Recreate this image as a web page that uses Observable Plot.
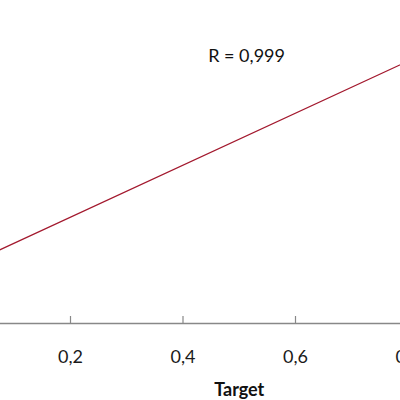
<!DOCTYPE html>
<html>
<head>
<meta charset="utf-8">
<script src="https://cdn.jsdelivr.net/npm/d3@7"></script>
<script src="https://cdn.jsdelivr.net/npm/@observablehq/plot@0.6"></script>
<style>
  html, body { margin: 0; padding: 0; background: #fff; overflow: hidden; }
  #chart svg { display: block; }
</style>
</head>
<body>
<div id="chart"></div>
<script>
// Data
const target = [0, 0.8];
const output = [0.009, 0.809];
const xTicks = [0, 0.2, 0.4, 0.6, 0.8];
const rLabel = "R = 0,999";
const xLabel = "Target";

const rows = target.map((t, i) => ({target: t, output: output[i]}));
const fmt = d => d3.format(".1f")(d).replace(".", ",");

const chart = Plot.plot({
  width: 400,
  height: 400,
  marginLeft: -42.5,
  marginRight: -7.5,
  marginTop: 11,
  marginBottom: 77,
  style: {fontFamily: "Lato, 'Open Sans', sans-serif", fontSize: "18px", color: "#111", background: "#fff"},
  x: {domain: [0, 0.8], label: null},
  y: {domain: [-0.2, 1.0], axis: null},
  marks: [
    Plot.ruleY([-0.2], {stroke: "#888", strokeWidth: 1.3}),
    Plot.axisX(xTicks, {tickSize: -7, tickFormat: () => "", stroke: "#888", strokeOpacity: 1, strokeWidth: 1.2, label: null}),
    Plot.axisX(xTicks, {tickSize: 0, tickPadding: 27, tickFormat: fmt, fill: "#1a1a1a", fontSize: 18, label: null}),
    Plot.line(rows, {x: "target", y: "output", stroke: "#a3192e", strokeWidth: 1.3}),
    Plot.text([rLabel], {x: 0.513, y: 0.828, text: d => d, fontSize: 18, fill: "#111", lineAnchor: "middle"}),
    Plot.text([xLabel], {x: 0.5, frameAnchor: "bottom", dy: 67, text: d => d, fontSize: 18, fontWeight: "bold", fill: "#111", lineAnchor: "middle"})
  ]
});
document.getElementById("chart").appendChild(chart);
</script>
</body>
</html>
